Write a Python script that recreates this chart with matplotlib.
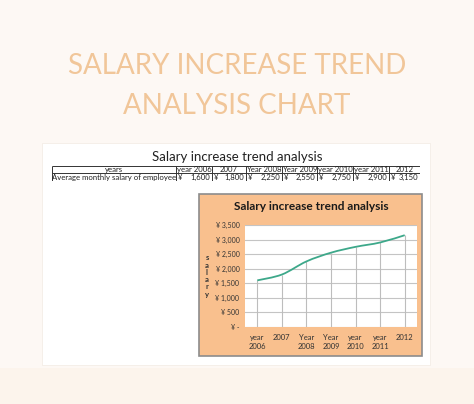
import matplotlib
matplotlib.use("Agg")
import matplotlib.pyplot as plt
from matplotlib.patches import Rectangle, PathPatch
from matplotlib.path import Path
from matplotlib.ticker import FixedLocator

# data
years = ["year 2006", "2007", "Year 2008", "Year 2009", "year 2010", "year 2011", "2012"]
x_labels = ["year\n2006", "2007", "Year\n2008", "Year\n2009", "year\n2010", "year\n2011", "2012"]
salary = [1600, 1800, 2250, 2550, 2750, 2900, 3150]
y_ticks = [0, 500, 1000, 1500, 2000, 2500, 3000, 3500]
row_label = "Average monthly salary of employee"

W, H = 474, 404
fig = plt.figure(figsize=(W / 100, H / 100), dpi=100, facecolor="#FDF8F4")
plt.rcParams["font.family"] = ["Lato", "DejaVu Sans"]


def fx(x):
    return x / W


def fy(y):
    return 1 - y / H


def box(x0, y0, x1, y1, **kw):
    # rectangle in pixel coords of the picture (top-left origin)
    r = Rectangle((fx(x0), fy(y1)), fx(x1) - fx(x0), fy(y0) - fy(y1),
                  transform=fig.transFigure, **kw)
    fig.patches.append(r)
    return r


# background bands
box(0, 368, W, H, facecolor="#FCF4EC", edgecolor="none", zorder=0)
box(42, 143, 431, 366, facecolor="#F5EFE9", edgecolor="none", zorder=0.5)
box(43, 144, 430, 365, facecolor="white", edgecolor="none", zorder=0.6)

# big title
fig.text(0.5, fy(66), "SALARY INCREASE TREND", ha="center", va="center",
         fontsize=20, color="#F1C699", zorder=5)
fig.text(0.5, fy(106), "ANALYSIS CHART", ha="center", va="center",
         fontsize=20, color="#F1C699", zorder=5)

# table
fig.text(fx(237), fy(157), "Salary increase trend analysis", ha="center", va="center",
         fontsize=9.5, color="#222222", zorder=5)
col_w = [124, 36, 34, 36, 35, 36, 36, 31]
tab = fig.add_axes([fx(52), fy(181), fx(52 + sum(col_w)) - fx(52), fy(166) - fy(181)], zorder=3)
tab.set_xlim(0, sum(col_w))
tab.set_ylim(2, 0)
tab.axis("off")
edges = [0]
for w in col_w:
    edges.append(edges[-1] + w)
tab.vlines(edges, 0, 2, color="#333333", lw=0.7)
tab.hlines([0, 1, 2], 0, edges[-1], color="#333333", lw=0.7)
fs = 5.6
tab.text(col_w[0] / 2, 0.5, "years", ha="center", va="center", fontsize=fs, color="#222222")
tab.text(0.5, 1.5, row_label, ha="left", va="center", fontsize=5.6, color="#222222")
for i, (yr, val) in enumerate(zip(years, salary)):
    l, r = edges[i + 1], edges[i + 2]
    tab.text((l + r) / 2, 0.5, yr, ha="center", va="center", fontsize=fs, color="#222222")
    tab.text(l + 2, 1.5, "¥", ha="left", va="center", fontsize=fs, color="#222222")
    tab.text(r - 1.5, 1.5, f"{val:,}", ha="right", va="center", fontsize=fs, color="#222222")

# chart box
box(199, 194, 422, 356, facecolor="#F9C08E", edgecolor="#8C8C8C", lw=1.2, zorder=2)
fig.text(fx(311), fy(206), "Salary increase trend analysis", ha="center", va="center",
         fontsize=8.6, weight="bold", color="#1A1A1A", zorder=5)

ax = fig.add_axes([fx(245), fy(327), fx(417) - fx(245), fy(225) - fy(327)], zorder=3)
ax.set_facecolor("white")
xs = list(range(len(salary)))
ax.set_xlim(-0.5, len(salary) - 0.5)
ax.set_ylim(0, 3500)
ax.yaxis.set_major_locator(FixedLocator(y_ticks))
ax.set_yticklabels(["¥ -" if v == 0 else f"¥ {v:,}" for v in y_ticks])
ax.set_xticks(xs)
ax.set_xticklabels(x_labels, va="top", linespacing=1.4)
ax.tick_params(axis="both", length=0, labelcolor="#333333")
ax.tick_params(axis="x", pad=5, labelsize=5.5)
ax.tick_params(axis="y", pad=4, labelsize=5.0)
for s in ax.spines.values():
    s.set_visible(False)
ax.grid(axis="y", color="#C4C4C4", lw=0.8)
ax.set_axisbelow(True)
ax.vlines(xs, 0, salary, color="#BDBDBD", lw=0.8, zorder=1)

# smoothed line (catmull-rom -> bezier) through the data points
pts = list(zip(xs, salary))
verts = [pts[0]]
codes = [Path.MOVETO]
for i in range(len(pts) - 1):
    p0 = pts[i - 1] if i > 0 else pts[i]
    p1 = pts[i]
    p2 = pts[i + 1]
    p3 = pts[i + 2] if i + 2 < len(pts) else pts[i + 1]
    c1 = (p1[0] + (p2[0] - p0[0]) / 6, p1[1] + (p2[1] - p0[1]) / 6)
    c2 = (p2[0] - (p3[0] - p1[0]) / 6, p2[1] - (p3[1] - p1[1]) / 6)
    verts += [c1, c2, p2]
    codes += [Path.CURVE4] * 3
ax.add_patch(PathPatch(Path(verts, codes), facecolor="none", edgecolor="#3DA88A", lw=1.3, zorder=3))

ax.set_ylabel("s\na\nl\na\nr\ny", rotation=0, fontsize=5.5, weight="bold", color="#333333",
              linespacing=1.05, va="center", ha="center")
ax.yaxis.set_label_coords((207 - 245) / (417 - 245), 0.5)

fig.savefig("out.png", dpi=100, facecolor=fig.get_facecolor())
